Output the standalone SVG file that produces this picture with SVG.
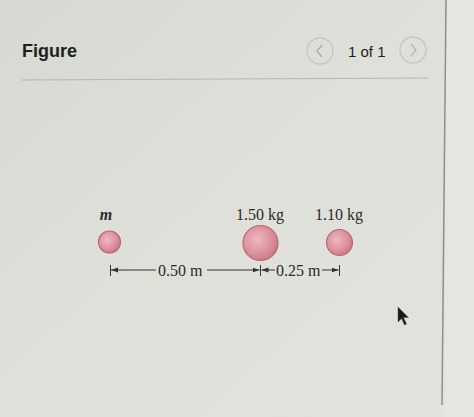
<svg xmlns="http://www.w3.org/2000/svg" width="474" height="417" viewBox="0 0 474 417">
<defs>
<linearGradient id="bg" x1="0" y1="0" x2="1" y2="1">
<stop offset="0" stop-color="#d6d8d2"/>
<stop offset="0.5" stop-color="#dfe0da"/>
<stop offset="1" stop-color="#e2e3dd"/>
</linearGradient>
<radialGradient id="ball" cx="0.4" cy="0.4" r="0.65">
<stop offset="0" stop-color="#f0b8c0"/>
<stop offset="0.7" stop-color="#d98c98"/>
<stop offset="1" stop-color="#c67584"/>
</radialGradient>
<marker id="ar" viewBox="0 0 10 10" refX="10" refY="5" markerWidth="7" markerHeight="7" orient="auto-start-reverse" markerUnits="userSpaceOnUse">
<path d="M0,1.5 L10,5 L0,8.5 Z" fill="#333"/>
</marker>
<style>
.ball{fill:url(#ball);stroke:#b86876;stroke-width:1.2}
.lbl{font-family:"Liberation Serif",serif;font-size:16px;fill:#2a2a2a}
.dim{stroke:#333;stroke-width:1;fill:none}
.hdr{font-family:"Liberation Sans",Arial,sans-serif;fill:#1e1e1e}
.nav{fill:none;stroke:#c4c6c2;stroke-width:1.3}
</style>
</defs>
<rect width="474" height="417" fill="url(#bg)"/>
<rect x="445" y="0" width="29" height="417" fill="#e4e6e1"/>
<line x1="446" y1="0" x2="442" y2="405" stroke="#8c8f8c" stroke-width="1.5"/>
<g id="header">
<text class="hdr" x="22" y="57" font-size="18" font-weight="bold">Figure</text>
<circle class="nav" cx="320" cy="51" r="13"/>
<path d="M322,45 L317,51 L322,57" fill="none" stroke="#a8aaa8" stroke-width="1.3"/>
<text class="hdr" x="348" y="56.5" font-size="15">1 of 1</text>
<circle class="nav" cx="413" cy="50" r="13"/>
<path d="M411,44 L416,50 L411,56" fill="none" stroke="#b6b8b6" stroke-width="1.3"/>
<line x1="22" y1="80" x2="428" y2="78" stroke="#b4b6b2" stroke-width="1"/>
</g>
<g id="mass-m">
<circle class="ball" cx="109.5" cy="242" r="11"/>
<text class="lbl" x="106" y="220" text-anchor="middle" font-style="italic" font-weight="bold" font-size="20">m</text>
</g>
<g id="mass-150">
<circle class="ball" cx="260.5" cy="243" r="17.5"/>
<text class="lbl" x="260" y="220" text-anchor="middle">1.50 kg</text>
</g>
<g id="mass-110">
<circle class="ball" cx="339.5" cy="242.5" r="13"/>
<text class="lbl" x="339" y="220" text-anchor="middle">1.10 kg</text>
</g>
<g id="connectors">
<line class="dim" x1="110.5" y1="265" x2="110.5" y2="276"/>
<line class="dim" x1="111" y1="270" x2="156" y2="270" marker-start="url(#ar)"/>
<line class="dim" x1="207" y1="270" x2="259.5" y2="270" marker-end="url(#ar)"/>
<line class="dim" x1="260.5" y1="265" x2="260.5" y2="276"/>
<line class="dim" x1="261.5" y1="270" x2="275" y2="270" marker-start="url(#ar)"/>
<line class="dim" x1="322" y1="270" x2="338.5" y2="270" marker-end="url(#ar)"/>
<line class="dim" x1="339.5" y1="265" x2="339.5" y2="276"/>
<text class="lbl" x="158" y="275.5">0.50 m</text>
<text class="lbl" x="276" y="275.5">0.25 m</text>
</g>
<path d="M398,307 L398,322 L401.5,318.5 L404.5,325 L406.5,324 L403.5,317.5 L408.5,317.5 Z" fill="#1a1a1a" stroke="#555" stroke-width="0.5"/>
</svg>
